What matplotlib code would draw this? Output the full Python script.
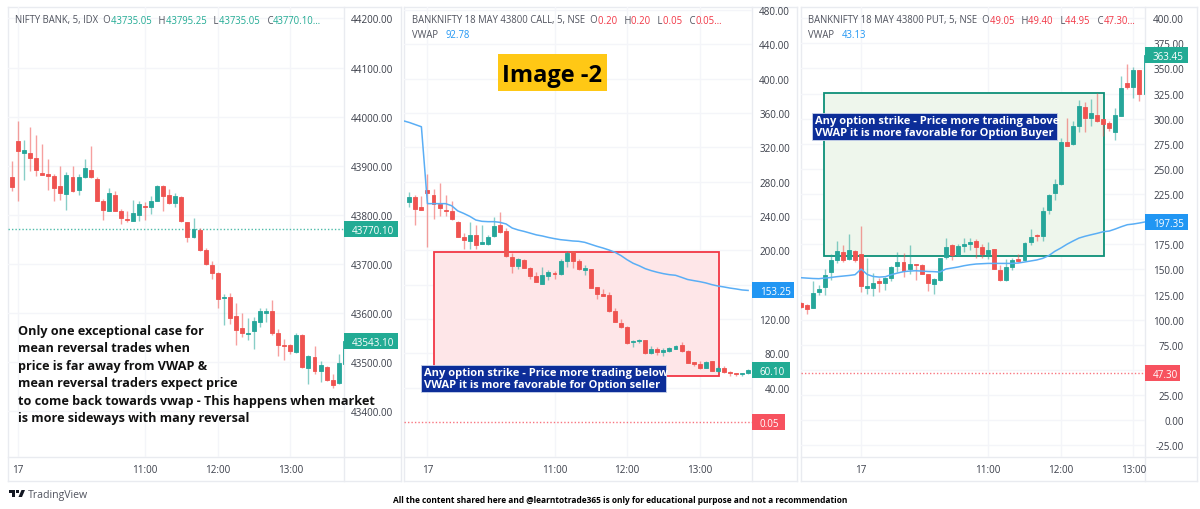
import matplotlib
matplotlib.use("Agg")
import matplotlib.pyplot as plt
from matplotlib.lines import Line2D
from matplotlib.patches import Rectangle, Circle, Polygon

W, H = 1200, 510
plt.rcParams['font.family'] = ['Open Sans', 'DejaVu Sans']

GREEN = '#26a69a'
RED = '#ef5350'
BLUE = '#2196f3'
GRID = '#f4f5f9'
FRAME = '#e9ebf0'
TEXT = '#3b3f4a'

# --- NIFTY BANK ---
nifty_open = [43876, 43950, 43925, 43926, 43915, 43886, 43884, 43878, 43858, 43842, 43876, 43851, 43876, 43892,
              43873, 43829, 43808, 43840, 43808, 43791, 43788, 43800, 43818, 43816, 43829, 43859, 43840, 43823,
              43837, 43785, 43755, 43768, 43728, 43698, 43682, 43630, 43632, 43594, 43569, 43558, 43563, 43581,
              43600, 43603, 43560, 43535, 43534, 43520, 43556, 43488, 43510, 43482, 43490, 43464, 43457, 43496]
nifty_high = [43909, 43990, 43952, 43978, 43963, 43944, 43914, 43883, 43900, 43888, 43900, 43883, 43914, 43941,
              43876, 43832, 43854, 43849, 43812, 43808, 43830, 43827, 43825, 43838, 43861, 43861, 43853, 43844,
              43838, 43786, 43793, 43772, 43732, 43706, 43683, 43639, 43641, 43620, 43599, 43590, 43591, 43609,
              43611, 43627, 43567, 43547, 43537, 43559, 43558, 43514, 43533, 43503, 43491, 43476, 43516, 43550]
nifty_low = [43849, 43827, 43871, 43890, 43878, 43882, 43851, 43827, 43831, 43810, 43847, 43841, 43874, 43874,
             43827, 43789, 43808, 43808, 43781, 43786, 43788, 43787, 43789, 43802, 43828, 43808, 43822, 43815,
             43786, 43745, 43753, 43726, 43698, 43670, 43609, 43575, 43577, 43535, 43550, 43544, 43527, 43571,
             43581, 43555, 43512, 43505, 43516, 43518, 43488, 43455, 43476, 43459, 43462, 43448, 43455, 43490]
nifty_close = [43857, 43929, 43931, 43916, 43892, 43882, 43878, 43855, 43845, 43880, 43848, 43876, 43896, 43876,
               43827, 43810, 43844, 43808, 43793, 43789, 43803, 43821, 43815, 43827, 43859, 43839, 43823, 43838,
               43787, 43754, 43770, 43729, 43699, 43682, 43628, 43632, 43590, 43565, 43560, 43560, 43583, 43603,
               43603, 43560, 43535, 43533, 43522, 43554, 43489, 43512, 43482, 43494, 43464, 43454, 43497, 43543.1]
nifty_ticks = [43400, 43500, 43600, 43700, 43800, 43900, 44000, 44100, 44200]

# --- CALL ---
call_open = [256.2, 262, 251, 270, 265, 254, 247, 246, 233.5, 215, 211, 217.5, 207, 207, 217, 230, 222, 192, 182,
             189, 179, 170, 161, 170.5, 173, 172, 187, 199, 187, 177, 178, 157, 149.5, 148, 129, 115.7, 110.7,
             93, 94, 95, 80, 84.6, 81.5, 83, 85, 89.7, 83, 70, 68, 63, 70.7, 59, 63, 58.6, 56.7, 55.5, 56.7]
call_high = [268.3, 265, 263, 289, 271, 279, 265, 257, 234, 220, 233, 230, 230, 218, 239, 245, 226, 197, 190.7,
             190, 180, 175, 180, 177, 176, 190, 199, 199.6, 190, 183, 178, 157, 155, 151, 133, 120, 111.5,
             95, 96.7, 95.5, 88, 87, 86, 87, 90, 92.8, 84, 70.3, 71.5, 70.7, 71, 65.6, 65.6, 59.8, 57, 57, 61.8]
call_low = [250.3, 230, 247, 203.4, 236, 240, 240, 235, 215.5, 201.5, 202, 201, 207, 206.5, 216, 220.6, 192.5,
            173.6, 178, 179, 167, 163.5, 161, 165.5, 166, 171.7, 181, 179, 177.5, 171, 156.5, 143.7, 147, 128.5,
            117, 110, 90.5, 87, 92, 79.6, 79, 78, 76.5, 82, 84.6, 82, 68.4, 65.6, 61.7, 62.5, 59, 58, 57, 54, 53,
            54, 56]
call_close = [262.4, 248, 247, 267, 254, 249, 246, 237, 216, 212, 218, 206, 210, 216, 228, 221, 193, 182, 189.5,
              179, 170, 163.5, 171, 175, 172, 187.5, 197, 187, 178, 179, 156.5, 149.5, 147, 129, 117, 110.7, 92,
              94.8, 95, 80, 84.6, 81, 83.5, 86, 89, 82.7, 68.7, 67.6, 63, 70.3, 59.4, 63.3, 58, 56.7, 55.5, 56.7,
              60.1]
call_vwap_x = [-1, 0, 1, 2] + list(range(3, 57))
call_vwap = [351, 349, 346.5, 344, 254.4, 254.4, 254.4, 254.4, 252, 246, 243, 239.6, 235.3, 233.8, 233.4, 233.4,
             232.6, 230.7, 226, 223.7, 222, 220, 218, 216.7, 215, 213.6, 212.4, 211.7, 210.9, 210.5, 209.3, 207,
             204.7, 202.7, 200.4, 197.7, 193.8, 189, 184.9, 182, 178.6, 176.3, 174.4, 172.8, 171.6, 170.9, 168.5,
             166, 164.7, 163.5, 162, 160, 158.4, 157.3, 156, 155, 153.8, 153.25]
call_ticks = [40, 80, 120, 160, 200, 240, 280, 320, 360, 400, 440, 480]

# --- PUT (first candle is half cut off by the pane edge) ---
put_open = [117, 114.3, 111.3, 128, 132.6, 147, 159.4, 167.4, 160, 168, 165, 132, 131.6, 138.9, 136.5, 141, 153.4,
            157.8, 150, 155, 154.4, 145, 135.5, 139.5, 162, 174.3, 164, 173, 175, 178.6, 172, 165, 170.3, 149.7,
            139, 152.4, 160.3, 159.7, 177.3, 184.5, 183.2, 209.4, 226, 235, 276.4, 274.7, 292.3, 311.2, 300.6,
            303.6, 299.6, 295.6, 287, 302.3, 335.4, 331.8, 348, 325]
put_high = [118, 115.3, 138.9, 135, 150, 165, 178, 174, 185, 169.4, 193, 161.7, 146.8, 141.8, 142.8, 153.5, 167.6,
            166, 174, 155, 155.8, 145.8, 141, 161.7, 181.6, 175, 175, 181.6, 181, 180, 175.7, 177.7, 170.3, 154.4,
            160.3, 161.3, 165.3, 177.6, 190, 185, 211.7, 225, 240, 280.4, 300.3, 298, 318.5, 316.2, 319.5, 326,
            300, 298, 310.2, 342.7, 354.6, 351.3, 348, 368]
put_low = [112, 105.4, 111.3, 124.6, 125, 139, 156.8, 157.4, 159, 157.4, 128, 126, 123.6, 127.6, 130, 138.5, 147.5,
           142.8, 145.8, 139, 145, 129, 125.6, 138.5, 160.7, 159.4, 163.4, 167.7, 169, 161.7, 161.7, 160.7, 150.4,
           138.8, 138.8, 149.4, 157, 159, 174.3, 178, 178.6, 205, 219.4, 234.3, 272.4, 274, 287, 287, 293, 296.3,
           282.4, 288, 279, 302.3, 330, 320.8, 318, 325]
put_close = [113, 110.7, 126.3, 131, 144.5, 159.7, 168.7, 159.4, 169.7, 159.4, 133.6, 134, 137, 136.5, 141.8, 152.5,
             157, 148.8, 155.8, 154.4, 145.8, 137, 140.5, 161, 172, 164.4, 173.7, 175.7, 177.3, 172.3, 165, 169.4,
             150.4, 139.5, 152, 159.4, 158.7, 176.3, 182.6, 183.5, 208.4, 224.3, 235, 276.4, 273, 293, 312.2, 300.3,
             305.6, 297.6, 295, 290.6, 303.6, 331, 332, 348, 325, 363.45]
put_vwap = [141.8, 141.4, 141, 140.8, 141.4, 142, 142.8, 143.4, 144, 144.8, 150.4, 145, 143, 142.4, 142.8, 144.8,
            146.4, 147.8, 148.4, 148.7, 148.4, 148, 147.8, 147.4, 150.4, 151.4, 152.4, 153.7, 154.7, 155.4, 155.7,
            156, 156, 156, 156, 156, 156.4, 157.4, 158.4, 159.4, 161, 163.7, 168, 171.3, 175, 178.2, 181.2, 183,
            184.5, 185.9, 187.5, 188.2, 190.2, 192.5, 194.5, 195.2, 196.2, 197.35]
put_ticks = list(range(-25, 401, 25))
# these two sit fully under the price tags in the reference
put_hidden = [50, 200]

time_labels = ['17', '11:00', '12:00', '13:00']


def fx(x):
    return x / W


def fy(y):
    return 1 - y / H


fig = plt.figure(figsize=(W / 100, H / 100), dpi=100, facecolor='white')
renderer = fig.canvas.get_renderer()


def ptext(x, y, s, **kw):
    # text placed with pixel coords of the picture
    kw.setdefault('va', 'center')
    return fig.text(fx(x), fy(y), s, zorder=11, **kw)


def pieces(x, y, parts, size=6.85):
    for s, c in parts:
        t = ptext(x, y, s, color=c, fontsize=size)
        x += t.get_window_extent(renderer).width + (size * 0.36 if s.endswith(' ') else 0)


def frame_line(x0, y0, x1, y1):
    fig.add_artist(Line2D([fx(x0), fx(x1)], [fy(y0), fy(y1)], color=FRAME, lw=1, zorder=-1))


def make_pane(left, right, outer, first_x, times, ticks, ylim, tick_x, hidden=()):
    # left/right = plot area in px, first_x = px of candle 0, 6.05 px per candle
    top, bottom = 8, 458
    ax = fig.add_axes([fx(left), fy(bottom), fx(right - left), (bottom - top) / H])
    ax.patch.set_visible(False)
    ax.set_xlim((left - first_x) / 6.05, (right - first_x) / 6.05)
    ax.set_ylim(*ylim)
    for s in ax.spines.values():
        s.set_visible(False)
    ax.yaxis.tick_right()
    ax.set_yticks(ticks)
    ax.set_yticklabels(['' if v in hidden else f"{v:.2f}" for v in ticks], ha='right')
    ax.set_xticks(times)
    ax.set_xticklabels(time_labels)
    ax.tick_params(axis='y', length=0, pad=(tick_x - right) * 0.72, labelsize=7.1, labelcolor=TEXT)
    ax.tick_params(axis='x', length=0, pad=5, labelsize=7.1, labelcolor=TEXT)
    ax.grid(True, color=GRID, lw=1)
    ax.set_axisbelow(True)
    frame_line(left, top, outer, top)
    frame_line(left, 482, outer, 482)
    frame_line(left, top, left, 482)
    frame_line(outer, top, outer, 482)
    frame_line(right, top, right, 482)
    frame_line(left, bottom, outer, bottom)
    return ax


def candles(ax, o, h, l, c, start=0):
    for k in range(len(o)):
        i = k + start
        col = GREEN if c[k] >= o[k] else RED
        ax.plot([i, i], [l[k], h[k]], color=col, lw=1, alpha=0.55, solid_capstyle='butt', zorder=3)
        lo, hi = min(o[k], c[k]), max(o[k], c[k])
        ax.add_patch(Rectangle((i - 0.33, lo), 0.66, hi - lo, facecolor=col, edgecolor=col, lw=0.6, zorder=4))


def price_tag(ax, value, colour, width, text_x, line=False):
    bb = ax.get_position()
    ax_w = bb.width * W
    y0, y1 = ax.get_ylim()
    per_px = (y1 - y0) / (bb.height * H)
    ax.add_patch(Rectangle((1, value - 8 * per_px), width / ax_w, 16 * per_px, transform=ax.get_yaxis_transform(),
                           facecolor=colour, edgecolor='none', clip_on=False, zorder=8))
    ax.text(1 + text_x / ax_w, value, f"{value:.2f}", transform=ax.get_yaxis_transform(), color='white',
            fontsize=7.1, va='center_baseline', ha='left', zorder=9)
    if line:
        ax.axhline(value, color=colour, lw=1, ls=(0, (1, 1.5)), alpha=0.8, zorder=2)


def note_box(x0, y0, x1, y1, line1, line2):
    fig.add_artist(Rectangle((fx(x0), fy(y1)), fx(x1 - x0), (y1 - y0) / H, transform=fig.transFigure,
                             facecolor='#0c2d98', edgecolor='#c9d3ea', lw=0.6, zorder=10))
    ptext(x0 + 3, y0 + 8, line1, color='white', fontsize=8, fontweight='bold')
    ptext(x0 + 3, y0 + 19.5, line2, color='white', fontsize=8, fontweight='bold')


# left pane
ax1 = make_pane(8, 344, 401, 12, [1, 22, 34, 46], nifty_ticks, (43306.4, 44223.3), 393)
candles(ax1, nifty_open, nifty_high, nifty_low, nifty_close)
price_tag(ax1, 43770.10, '#22ab94', 54, 8, line=True)
price_tag(ax1, 43543.10, '#22ab94', 54, 8)

# middle pane
ax2 = make_pane(404, 752, 797, 409.3, [3, 24, 36, 48], call_ticks, (-40.9, 483.6), 790)
ax2.add_patch(Rectangle((4, 53.9), 47.2, 143.6, facecolor='#fee6e8', edgecolor='#f23645', lw=1.3, zorder=1.5))
candles(ax2, call_open, call_high, call_low, call_close)
ax2.plot(call_vwap_x, call_vwap, color='#5aaef5', lw=1.1, zorder=5)
price_tag(ax2, 153.25, BLUE, 42, 8)
price_tag(ax2, 60.10, '#22ab94', 38, 8)
price_tag(ax2, 0.05, '#f7525f', 33, 8, line=True)

# right pane
ax3 = make_pane(801, 1145, 1197, 806.7, [9, 30, 42, 54], put_ticks, (-36.6, 411.1), 1184, hidden=put_hidden)
ax3.add_patch(Rectangle((2.9, 163.1), 46.2, 162.5, facecolor='#eef6ec', edgecolor='#0d9078', lw=1.3, zorder=1.5))
candles(ax3, put_open, put_high, put_low, put_close, start=-1)
ax3.plot(range(-1, 57), put_vwap, color='#5aaef5', lw=1.1, zorder=5)
price_tag(ax3, 363.45, '#22ab94', 43, 8)
price_tag(ax3, 197.35, BLUE, 43, 8)
price_tag(ax3, 47.30, '#f7525f', 35, 8, line=True)

# legends at the top of each pane
G, R, GY = '#22ab94', '#f23645', '#50535e'
pieces(15, 21, [('NIFTY BANK, 5, IDX  O', GY), ('43735.05 ', G), (' H', GY), ('43795.25 ', G), (' L', GY),
                ('43735.05 ', G), (' C', GY), ('43770.10\u2026', G)])
pieces(412, 21, [('BANKNIFTY 18 MAY 43800 CALL, 5, NSE  O', GY), ('0.20 ', R), (' H', GY), ('0.20 ', R), (' L', GY),
                 ('0.05 ', R), (' C', GY), ('0.05\u2026', R)])
pieces(412, 35, [('VWAP  ', GY), ('92.78', BLUE)])
pieces(808, 21, [('BANKNIFTY 18 MAY 43800 PUT, 5, NSE  O', GY), ('49.05 ', R), (' H', GY), ('49.40 ', R), (' L', GY),
                 ('44.95 ', R), (' C', GY), ('47.30\u2026', R)])
pieces(808, 35, [('VWAP  ', GY), ('43.13', BLUE)])

# overlays
fig.add_artist(Rectangle((fx(498), fy(92)), fx(109), 37 / H, transform=fig.transFigure, facecolor='#ffc815',
                         edgecolor='none', zorder=10))
ptext(552.5, 76, 'Image -2', color='black', fontsize=17, fontweight='bold', ha='center')

note_box(420.7, 365.7, 665.7, 393, 'Any option strike - Price more trading below',
         'VWAP it is more favorable for Option seller')
note_box(812, 113.7, 1057, 141, 'Any option strike - Price more trading above',
         'VWAP it is more favorable for Option Buyer')

left_note = ['Only one exceptional case for', 'mean reversal trades when', 'price is far away from VWAP &',
             'mean reversal traders expect price', 'to come back towards vwap - This happens when market',
             'is more sideways with many reversal']
for n, s in enumerate(left_note):
    ptext(18, 331 + n * 17.6, s, color='#111111', fontsize=9.1, fontweight='bold')

# footer
ptext(28, 496, 'TradingView', color='#50535e', fontsize=7.6)
ptext(620, 501, 'All the content shared here and @learntotrade365 is only for educational purpose and not a recommendation',
      color='black', fontsize=6, fontweight='bold', ha='center')
dark = '#131722'
fig.add_artist(Rectangle((fx(9), fy(493.5)), fx(6), 2.5 / H, transform=fig.transFigure, facecolor=dark, zorder=10))
fig.add_artist(Rectangle((fx(12), fy(498)), fx(3), 7 / H, transform=fig.transFigure, facecolor=dark, zorder=10))
fig.add_artist(Rectangle((fx(16), fy(493.5)), fx(2.5), 2.5 / H, transform=fig.transFigure, facecolor=dark, zorder=10))
fig.add_artist(Polygon([(fx(18.5), fy(498)), (fx(21.5), fy(491)), (fx(25), fy(491)), (fx(22), fy(498))],
                       transform=fig.transFigure, facecolor=dark, zorder=10))

fig.savefig('out.png', dpi=100)
